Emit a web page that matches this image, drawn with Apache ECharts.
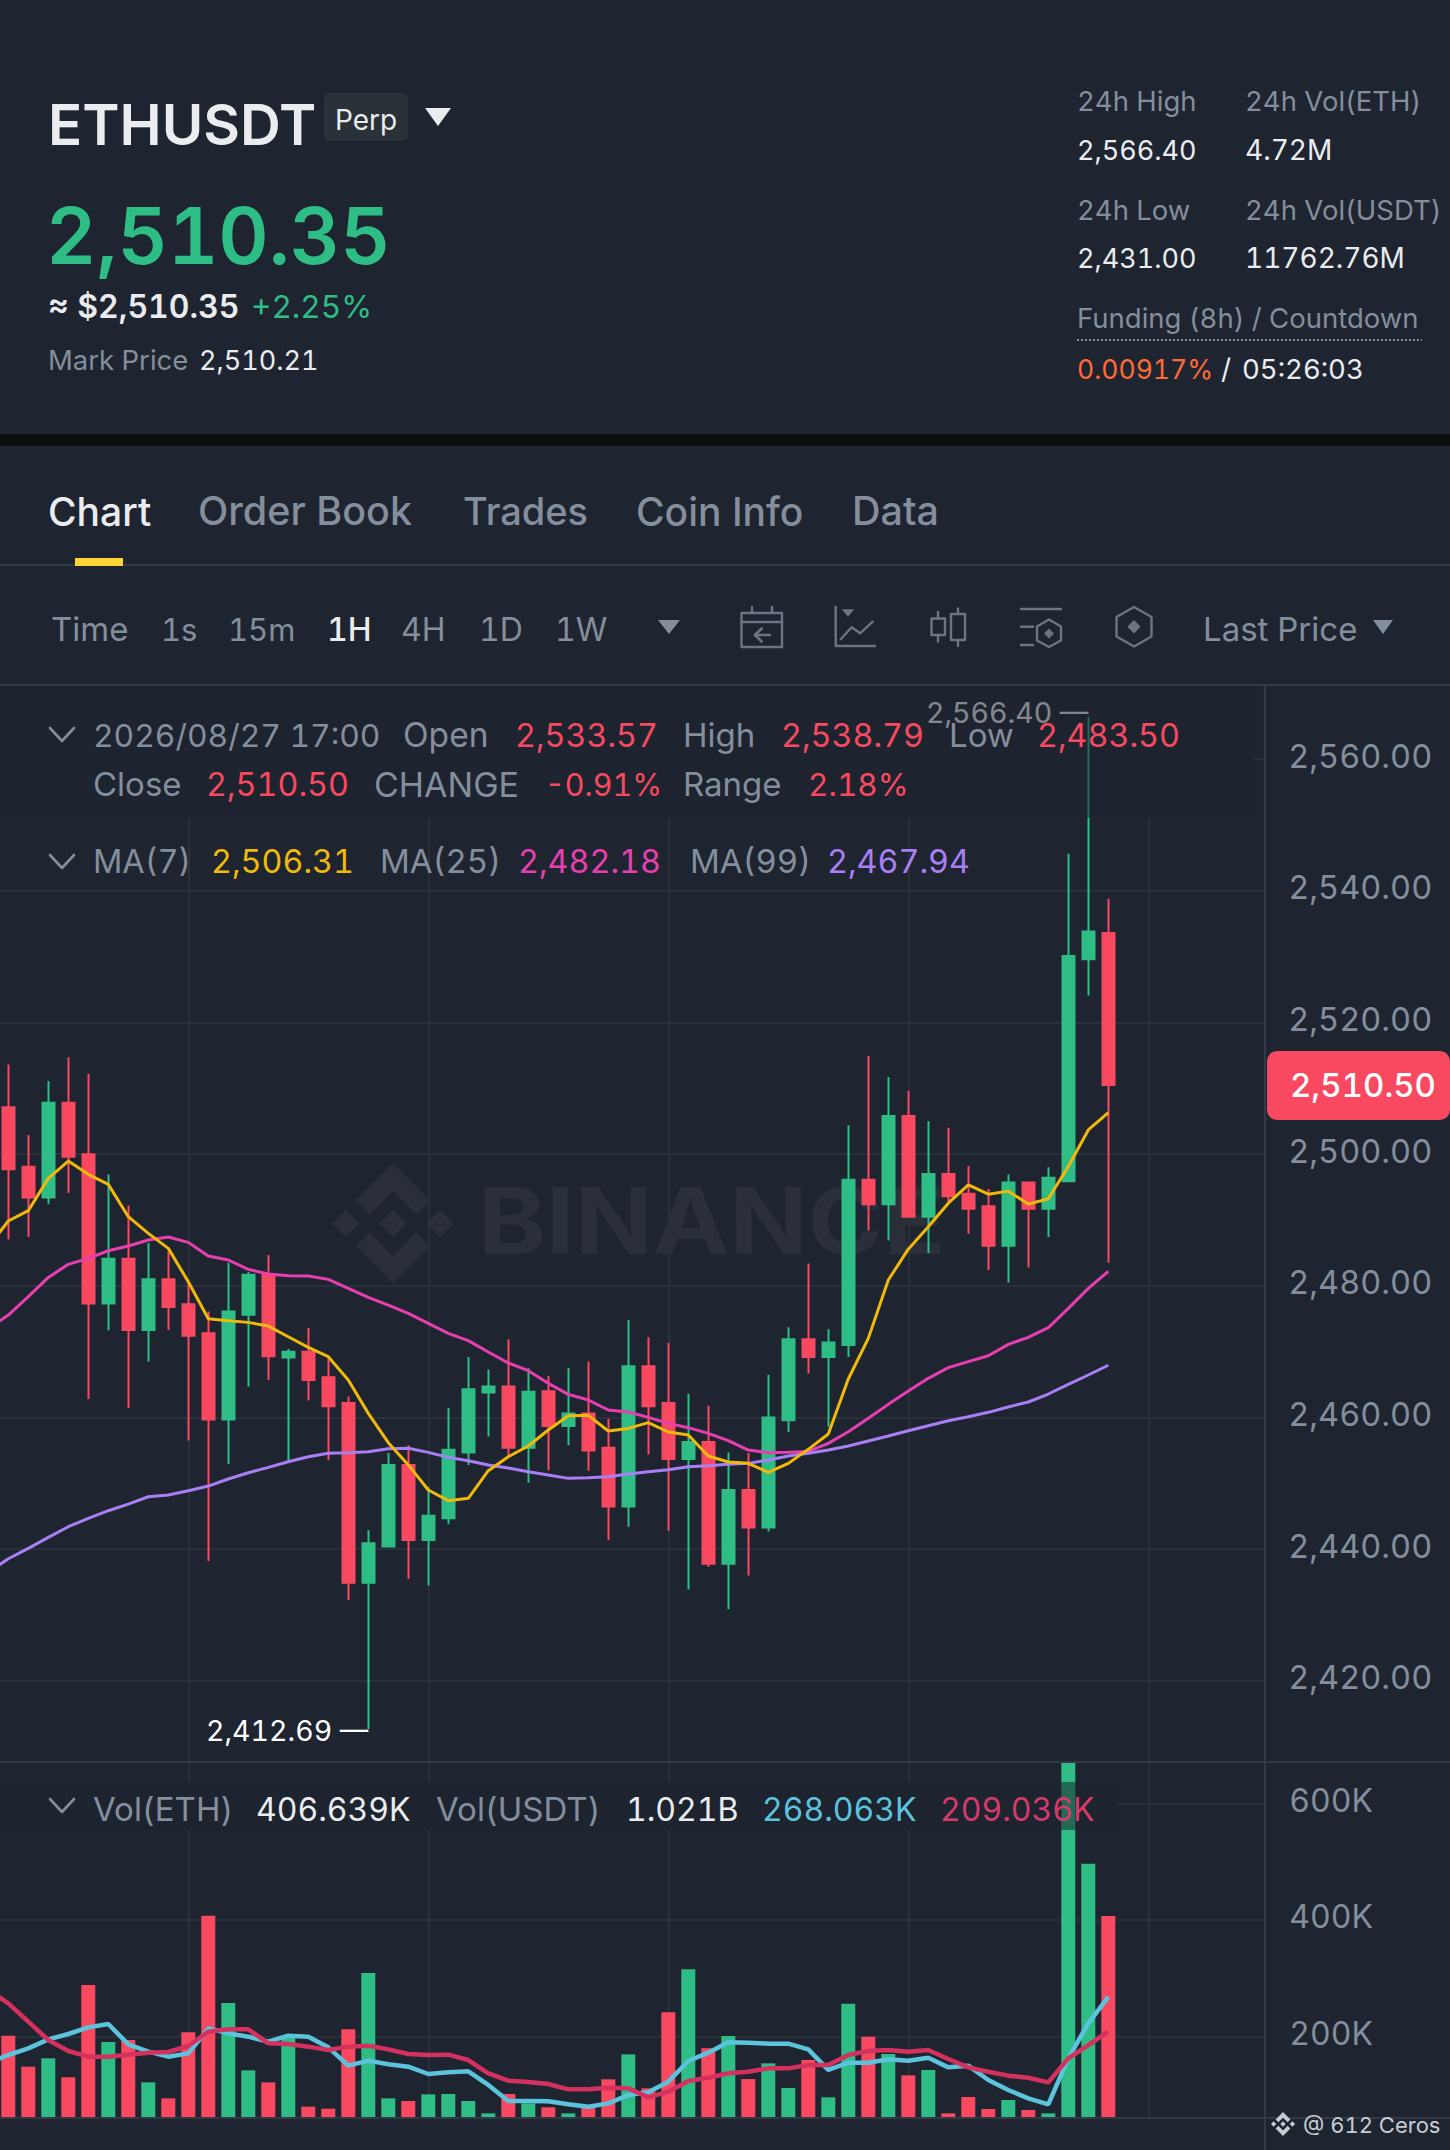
<!DOCTYPE html>
<html>
<head>
<meta charset="utf-8">
<style>html,body{margin:0;padding:0;background:#1e2530}#c{width:1450px;height:2150px}
#c text{font-variant-numeric:tabular-nums !important;font-feature-settings:'tnum' 1 !important}</style>
<script src="https://cdn.jsdelivr.net/npm/echarts@6/dist/echarts.min.js"></script>
</head>
<body>
<div id="c"></div>
<script>
// ---- data ----
// [open, close, low, high], one hourly candle each; first entry is the off-screen slot left of the view
const candles = [
 ['-','-','-','-'],
 [2507.1,2497.7,2487.05,2513.6],[2498.1,2493.4,2487.4,2502.9],[2493.4,2507.8,2492.4,2511.1],[2507.8,2499.6,2494.1,2514.7],
 [2500.0,2477.3,2462.8,2512.2],[2477.3,2484.1,2473.2,2496.9],[2484.1,2473.3,2461.5,2492.2],[2473.3,2481.0,2468.5,2486.5],
 [2481.0,2476.8,2473.3,2485.2],[2477.2,2472.4,2456.5,2480.4],[2472.8,2459.7,2438.2,2476.1],[2459.7,2476.1,2452.9,2483.5],
 [2475.6,2481.7,2464.7,2482.1],[2481.7,2469.3,2465.7,2484.7],[2469.1,2470.0,2453.3,2470.4],[2470.0,2465.7,2462.6,2473.6],
 [2466.1,2461.7,2453.5,2469.2],[2462.2,2434.9,2432.3,2463.2],[2434.9,2440.9,2412.69,2442.9],[2440.4,2452.8,2440.4,2454.6],
 [2452.8,2441.4,2435.5,2455.8],[2441.4,2445.1,2434.5,2449.4],[2444.7,2455.1,2443.8,2461.4],[2454.7,2464.3,2452.8,2469.2],
 [2463.8,2464.7,2457.1,2467.3],[2464.7,2455.4,2454.1,2471.9],[2455.4,2463.9,2450.1,2467.5],[2464.0,2458.7,2452.0,2466.3],
 [2458.7,2460.6,2455.8,2467.5],[2460.6,2455.0,2451.9,2468.5],[2455.4,2446.5,2441.4,2459.8],[2446.5,2467.8,2443.4,2474.8],
 [2467.8,2461.7,2454.4,2472.2],[2462.2,2453.7,2442.8,2471.3],[2453.7,2456.3,2433.9,2463.6],[2456.3,2437.8,2437.3,2461.8],
 [2437.8,2449.0,2430.9,2454.7],[2449.0,2443.3,2436.0,2454.6],[2443.3,2460.0,2442.7,2466.5],[2459.6,2471.9,2457.8,2473.7],
 [2471.9,2469.2,2466.7,2483.4],[2469.2,2471.4,2458.6,2473.4],[2471.0,2496.1,2469.2,2504.4],[2496.1,2492.4,2488.4,2514.9],
 [2492.4,2505.8,2486.9,2511.7],[2505.8,2490.5,2490.4,2509.6],[2490.5,2497.0,2485.0,2505.0],[2497.0,2493.6,2492.7,2504.0],
 [2494.0,2491.7,2487.9,2498.2],[2492.1,2486.1,2482.4,2494.7],[2486.1,2495.7,2480.5,2496.9],[2495.7,2491.7,2482.8,2495.7],
 [2491.7,2496.4,2487.4,2498.0],[2495.9,2530.1,2495.9,2545.6],[2529.6,2533.8,2524.1,2566.4],[2533.57,2510.50,2483.50,2538.79]
];
const ma7 = [2485.94,2489.84,2491.41,2496.32,2498.95,2496.93,2495.41,2490.50,2487.97,2485.69,2480.63,2475.01,2474.70,2474.45,2473.89,2472.27,2470.65,2469.24,2465.69,2460.63,2456.18,2452.8,2448.99,2447.37,2447.73,2451.93,2454.05,2455.67,2458.10,2460.28,2460.33,2457.95,2458.35,2459.22,2457.80,2457.34,2454.15,2453.24,2453.04,2451.67,2453.04,2455.17,2457.50,2465.85,2472.02,2480.88,2485.57,2488.96,2492.55,2495.33,2493.91,2494.38,2492.41,2493.23,2498.11,2503.67,2506.31];
const ma25 = [2473.49,2475.56,2478.35,2481.28,2483.26,2484.17,2485.33,2486.04,2486.95,2487.41,2486.60,2484.52,2483.92,2482.50,2481.79,2481.54,2481.49,2480.98,2479.61,2478.25,2477.08,2475.82,2474.30,2472.78,2471.67,2469.95,2468.28,2467.11,2465.19,2463.52,2462.66,2461.14,2460.84,2460.03,2459.11,2458.46,2457.60,2456.48,2455.06,2454.66,2454.71,2454.86,2456.08,2457.85,2459.88,2462.0,2464.03,2465.95,2467.57,2468.48,2469.39,2471.11,2472.18,2473.64,2476.58,2479.62,2482.18];
const ma99 = [2436.48,2438.56,2440.13,2441.80,2443.42,2444.68,2445.85,2446.86,2447.97,2448.23,2448.89,2449.59,2450.66,2451.62,2452.43,2453.29,2454.05,2454.56,2454.66,2454.81,2455.26,2455.32,2454.71,2453.95,2453.44,2452.79,2452.33,2451.77,2451.27,2450.76,2450.86,2451.02,2451.42,2451.77,2452.08,2452.53,2452.69,2452.89,2453.04,2453.55,2454.15,2454.56,2455.07,2455.67,2456.43,2457.19,2458.00,2458.76,2459.52,2460.13,2460.79,2461.60,2462.36,2463.57,2465.04,2466.46,2467.94];
// volume, thousand ETH
const volume = ['-',201.6,148.5,162.8,130.2,288.5,190.8,194.2,121.6,94.2,207.3,407.3,257.6,142.2,121.6,199.9,79.9,76.5,212.5,309.1,94.2,89.6,101.1,101.6,89.6,68.5,101.6,85.6,78.8,68.5,79.9,126.8,169.6,111.3,241.6,315.3,179.9,201.1,127.3,154.2,111.9,159.9,95.9,256.5,199.9,170.2,133.6,142.8,68.5,96.5,75.9,91.3,74.2,68.5,690,496.5,406.639];
const volMaFast = [154.8,168.5,179.9,195.3,204.5,215.9,221.6,186.8,174.2,165.6,171.3,214.2,205.6,199.9,191.3,201.6,199.9,181.6,150.2,158.8,152.5,148.5,135.9,138.8,140.5,117.1,89.6,89.6,89.1,83.9,79.9,85.6,99.9,104.5,122.8,158.2,172.5,190.2,189.6,187.9,187.9,178.2,142.8,155.3,155.3,161.1,158.8,163.9,147.3,150.2,125.6,108.5,94.2,83.9,162.8,222.8,268.063];
const volMaSlow = [279.9,257.1,225.6,194.2,175.3,165.6,165.6,169.1,172.5,173.6,183.9,208.5,212.5,212.5,188.5,187.3,182.8,177.1,182.8,184.5,178.2,170.2,168.5,169.1,159.9,137.1,124.5,122.2,118.8,109.6,109.6,112.5,111.3,95.9,105.6,123.9,129.6,137.1,139.9,145.6,145.6,151.3,151.3,168.5,175.3,177.1,174.2,177.1,161.6,147.3,139.9,133.1,129.6,121.6,162.8,185.6,209.036];
const priceTicks = [2420,2440,2460,2480,2500,2520,2540,2560];
const volumeTicks = [200,400,600];
const lastPriceLabel = '2,510.50';
const highLabel = '2,566.40';
const lowLabel = '2,412.69';
// hourly slots; the last real candle is 2026/08/27 17:00, the tail is empty room on the right
const categories = [];
for (let i = 0; i < 65; i++) categories.push('slot' + i);

// ---- look ----
const BG='#1e2530', UP='#2ebd85', DOWN='#f84960', GREY='#848e9c', WHITE='#eaecef', GRID='#2a313b', RULE='#333a45';
const FONT='Inter, "Noto Sans", sans-serif';

const header = [
 ['ETHUSDT',48,124,56.5,WHITE,600],['Perp',335,120,28,WHITE,400],
 ['2,510.35',46,235,78,UP,600],
 ['≈ $2,510.35',48,306,32,WHITE,600],['+2.25%',251,306,31.5,UP,400],
 ['Mark Price',48,360,27.5,GREY,400],['2,510.21',199,360,27,WHITE,400],
 ['24h High',1077,101,27.5,GREY,400],['24h Vol(ETH)',1245,101,27.5,GREY,400],
 ['2,566.40',1077,150,27,WHITE,400],['4.72M',1245,150,28,WHITE,400],
 ['24h Low',1077,210,27.5,GREY,400],['24h Vol(USDT)',1245,210,27.5,GREY,400],
 ['2,431.00',1077,258,27,WHITE,400],['11762.76M',1245,258,28,WHITE,400],
 ['Funding (8h) / Countdown',1077,318,27.5,GREY,400],
 ['0.00917%',1077,369,26.5,'#ff6b35',400],['/',1221,369,28,WHITE,400],['05:26:03',1242,369,27.5,WHITE,400],
 ['Chart',48,511,39,WHITE,500],['Order Book',198,511,39.5,GREY,500],['Trades',463,511,38,GREY,500],
 ['Coin Info',636,511,39,GREY,500],['Data',852,511,39.5,GREY,500],
 ['Time',51,629,33,GREY,400],['1s',161,629,31,GREY,400],['15m',228,629,31,GREY,400],['1H',327,629,32,WHITE,500],
 ['4H',401,629,32,GREY,400],['1D',479,629,32,GREY,400],['1W',555,629,32,GREY,400],['Last Price',1203,629,33,GREY,400]
];
const legend = [
 ['2026/08/27 17:00',93,735,GREY,31.8],['Open',403,735,GREY,33.5],['2,533.57',515,735,DOWN,32.3],['High',683,735,GREY,33],['2,538.79',781,735,DOWN,32.3],
 ['Low',949,735,GREY,33],['2,483.50',1037,735,DOWN,32.3],
 ['Close',93,784,GREY,33],['2,510.50',206,784,DOWN,32.3],['CHANGE',374,784,GREY,34],['-0.91%',545,784,DOWN,30.5],['Range',683,784,GREY,33],['2.18%',808,784,DOWN,31.5],
 ['MA(7)',93,861,GREY,32.5],['2,506.31',211,861,'#f0b90b',32.3],['MA(25)',380,861,GREY,33],['2,482.18',518,861,'#e83fb0',32.3],['MA(99)',690,861,GREY,33],['2,467.94',827,861,'#a97ff5',32.3],
 ['Vol(ETH)',93,1809,GREY,33],['406.639K',256,1809,WHITE,32],['Vol(USDT)',436,1809,GREY,33],['1.021B',626,1809,WHITE,32],['268.063K',762,1809,'#5cc3dc',32],['209.036K',940,1809,'#d63a6a',32]
];

const gfx = [];
const txt = (t,x,y,size,fill,weight,z,align,extra) => gfx.push(Object.assign({type:'text',z:z,style:{text:t,x:x,y:y,fill:fill,font:(weight||400)+' '+size+'px '+FONT,verticalAlign:'middle',align:align||'left'}},extra||{}));
const rect = (x,y,w,h,fill,z,r) => gfx.push({type:'rect',z:z,shape:{x:x,y:y,width:w,height:h,r:r||0},style:{fill:fill}});
const poly = (pts,fill,z) => gfx.push({type:'polygon',z:z,shape:{points:pts},style:{fill:fill}});
const pline = (pts,z,color,w) => gfx.push({type:'polyline',z:z,shape:{points:pts},style:{stroke:color,lineWidth:w,fill:'none',lineCap:'round',lineJoin:'round'}});

// page furniture
rect(0,434,1450,12,'#0b0e11',1);
rect(0,564,1450,2,RULE,1);
rect(75,558,48,8,'#fcd535',2);
rect(0,684,1450,2,RULE,1);
rect(324,93,84,48,'#2b3139',1,6);
poly([[425,108],[451,108],[438,126]],WHITE,2);
poly([[658,620],[680,620],[669,634]],GREY,2);
poly([[1373,620],[1393,620],[1383,634]],GREY,2);
gfx.push({type:'line',z:2,shape:{x1:1077,y1:340,x2:1422,y2:340},style:{stroke:GREY,lineWidth:2,lineDash:[2,2]}});
header.forEach(h => txt(h[0],h[1],h[2],h[3],h[4],h[5],3));

// toolbar icons
const IC='#6e7582';
pline([[741.5,613],[782,613],[782,647],[741.5,647],[741.5,613]],2,IC,2.4);
pline([[741.5,622],[782,622]],2,IC,2.4);
pline([[752,607],[752,613]],2,IC,2.4); pline([[772,607],[772,613]],2,IC,2.4);
pline([[755,635],[770,635]],2,IC,2.6); pline([[761.7,628.5],[755,635],[761.7,641.5]],2,IC,2.6);
pline([[835.7,607],[835.7,646],[875,646]],2,IC,2.4);
poly([[841.7,609.3],[854.3,609.3],[848,616.7]],IC,2);
pline([[840.7,639.3],[851.7,627.3],[860,633.3],[872.7,621.7]],2,IC,2.4);
pline([[931.5,618.5],[945,618.5],[945,635],[931.5,635],[931.5,618.5]],2,IC,2.4);
pline([[938,612],[938,618.5]],2,IC,2.4); pline([[938,635],[938,641.5]],2,IC,2.4);
pline([[951,614],[965,614],[965,640],[951,640],[951,614]],2,IC,2.4);
pline([[958,608.5],[958,614]],2,IC,2.4); pline([[958,640],[958,646]],2,IC,2.4);
pline([[1021,609],[1061,609]],2,IC,2.4); pline([[1021,626.7],[1033,626.7]],2,IC,2.4); pline([[1021,645],[1033,645]],2,IC,2.4);
pline([[1049,619.5],[1061,626.5],[1061,640.5],[1049,647],[1037,640.5],[1037,626.5],[1049,619.5]],2,IC,2.4);
poly([[1049,628.5],[1054,633.5],[1049,638.5],[1044,633.5]],IC,2);
pline([[1134,607],[1151.5,617],[1151.5,636.5],[1134,646.5],[1116.5,636.5],[1116.5,617],[1134,607]],2,IC,2.4);
poly([[1134,620],[1140.7,626.7],[1134,633.4],[1127.3,626.7]],IC,2);

// watermark behind the series
const WM='#2b2f3a';
const logo = (cx,cy,k,fill,z) => {
  const p = a => a.map(q => [cx+q[0]*k, cy+q[1]*k]);
  poly(p([[0,-60],[37,-23],[23,-9],[0,-33],[-23,-9],[-37,-23]]),fill,z);
  poly(p([[0,60],[37,23],[23,9],[0,33],[-23,9],[-37,23]]),fill,z);
  poly(p([[0,-13.5],[13.5,0],[0,13.5],[-13.5,0]]),fill,z);
  poly(p([[-47,-13.5],[-33.5,0],[-47,13.5],[-60.5,0]]),fill,z);
  poly(p([[47,-13.5],[60.5,0],[47,13.5],[33.5,0]]),fill,z);
};
logo(393,1223.5,1,WM,1);
txt('BINANCE',478,1221,92,WM,700,1,'left',{originX:478,originY:1221,scaleX:1.115});

// panels: a solid one hides the grid, a veil over the marks dims them
rect(0,686,1254,132,BG,1);
rect(0,1782,1118,48,BG,1);
rect(0,686,1254,132,'rgba(30,37,48,0.55)',20);
rect(0,1782,1118,48,'rgba(30,37,48,0.55)',20);
pline([[50,728],[62,741],[74,728]],21,GREY,2.6);
pline([[50,855],[62,868],[74,855]],21,GREY,2.6);
pline([[50,1799],[62,1812],[74,1799]],21,GREY,2.6);
legend.forEach(l => txt(l[0],l[1],l[2],l[4],l[3],400,21));

// right column
rect(1266,686,14,1464,BG,10);
rect(1264,686,2,1464,RULE,11);
rect(0,1761,1450,2,RULE,11);
rect(0,2117,1450,2,RULE,11);
rect(1267,1051,183,69,DOWN,12,10);
txt(lastPriceLabel,1363,1085,33,'#ffffff',500,13,'center');
logo(1283,2124,0.2,'#c8ccd2',13);
txt('@ 612 Ceros',1303,2125,22,'#c8ccd2',400,13);

const xBase = {
  type:'category', data:categories, boundaryGap:true,
  axisLine:{show:false}, axisTick:{show:false}, axisLabel:{show:false},
  splitLine:{show:true, alignWithLabel:true, lineStyle:{color:GRID,width:2}, interval:(i)=> (i-10)%12===0 }
};
const volBars = volume.map((v,i) => {
  if (v==='-') return '-';
  const c = candles[i];
  return {value:v*1000, itemStyle:{color: c[1]>=c[0] ? UP : DOWN}};
});
const thousand = a => a.map(v => v*1000);
const lineStyle = (color,w) => ({color:color,width:w});
const lineSeries = (name,data,color,w,x,y,z) => ({type:'line',name:name,data:data,xAxisIndex:x,yAxisIndex:y,z:z,symbol:'none',smooth:false,clip:true,lineStyle:lineStyle(color,w),silent:true,animation:false});

const option = {
  animation:false, backgroundColor:BG,
  grid:[
    {left:-21.7,width:1300,top:686,height:1075,outerBoundsMode:'none'},
    {left:-21.7,width:1300,top:1763,height:354,outerBoundsMode:'none'}
  ],
  xAxis:[Object.assign({gridIndex:0},xBase),Object.assign({gridIndex:1},xBase)],
  yAxis:[
    {gridIndex:0,type:'value',position:'right',min:2407.84,max:2571.09,
     axisLine:{show:false},axisTick:{show:false,customValues:priceTicks},
     splitLine:{show:true,lineStyle:{color:GRID,width:2}},
     axisLabel:{customValues:priceTicks,color:GREY,fontSize:32.5,fontFamily:FONT,margin:10,verticalAlign:'bottom',lineHeight:6,
       formatter:v=>v.toLocaleString('en-US',{minimumFractionDigits:2,maximumFractionDigits:2})}},
    {gridIndex:1,type:'value',position:'right',min:62200,max:669100,
     axisLine:{show:false},axisTick:{show:false,customValues:thousand(volumeTicks)},
     splitLine:{show:true,lineStyle:{color:GRID,width:2}},
     axisLabel:{customValues:thousand(volumeTicks),color:GREY,fontSize:32,fontFamily:FONT,margin:11,verticalAlign:'bottom',lineHeight:6,
       formatter:v=>(v/1000)+'K'}}
  ],
  graphic:{elements:gfx},
  series:[
    {type:'candlestick',name:'ETHUSDT',data:candles,xAxisIndex:0,yAxisIndex:0,barWidth:12,z:3,
     itemStyle:{color:UP,color0:DOWN,borderColor:UP,borderColor0:DOWN,borderWidth:2},
     markPoint:{symbol:'circle',symbolSize:0,silent:true,animation:false,
       label:{position:'left',distance:0,color:'#ffffff',fontSize:28.5,fontFamily:FONT},
       data:[
        {coord:[55,2566.40],value:0,label:{formatter:highLabel+' —',offset:[0,-4]}},
        {coord:[19,2412.69],value:0,label:{formatter:lowLabel+' —',offset:[0,1]}}
       ]}},
    lineSeries('MA(7)',ma7,'#f0b90b',3,0,0,5),
    lineSeries('MA(25)',ma25,'#e83fb0',3,0,0,4),
    lineSeries('MA(99)',ma99,'#a97ff5',3,0,0,4),
    {type:'bar',name:'Vol(ETH)',data:volBars,xAxisIndex:1,yAxisIndex:1,barWidth:14,z:3},
    lineSeries('Vol MA fast',thousand(volMaFast),'#5cc3dc',4.5,1,1,4),
    lineSeries('Vol MA slow',thousand(volMaSlow),'#d4315f',4.5,1,1,5)
  ]
};
echarts.init(document.getElementById('c'),null,{renderer:'svg',width:1450,height:2150}).setOption(option);
</script>
</body>
</html>
